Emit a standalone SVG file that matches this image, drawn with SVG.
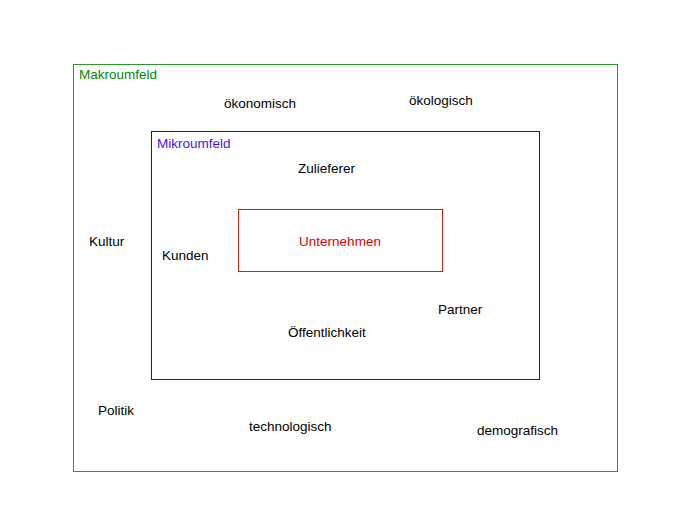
<svg xmlns="http://www.w3.org/2000/svg" width="680" height="510" viewBox="0 0 680 510">
<style>
text{font-family:"Liberation Sans",Arial,sans-serif;font-size:13.5px;fill:#000}
rect{fill:none;stroke-width:1}
</style>
<rect width="680" height="510" fill="#fff" style="fill:#fff"/>
<g id="makro"><rect x="73.5" y="64.5" width="544" height="407" stroke="#2a9a2a"/><text x="79" y="79" style="fill:#008800">Makroumfeld</text></g>
<g id="mikro"><rect x="151.5" y="131.5" width="388" height="248" stroke="#1010c0"/><text x="157" y="148" style="fill:#4a10e0">Mikroumfeld</text></g>
<g id="unternehmen"><rect x="238.5" y="209.5" width="204" height="62" stroke="#d02010"/><text x="340" y="246" text-anchor="middle" style="fill:#e00000">Unternehmen</text></g>
<g id="labels">
<text x="224" y="108">ökonomisch</text>
<text x="409" y="105">ökologisch</text>
<text x="298" y="173">Zulieferer</text>
<text x="89" y="246">Kultur</text>
<text x="162" y="260">Kunden</text>
<text x="438" y="314">Partner</text>
<text x="288" y="337">Öffentlichkeit</text>
<text x="98" y="415">Politik</text>
<text x="249" y="431">technologisch</text>
<text x="477" y="435">demografisch</text>
</g>
<g id="connectors"/>
</svg>
